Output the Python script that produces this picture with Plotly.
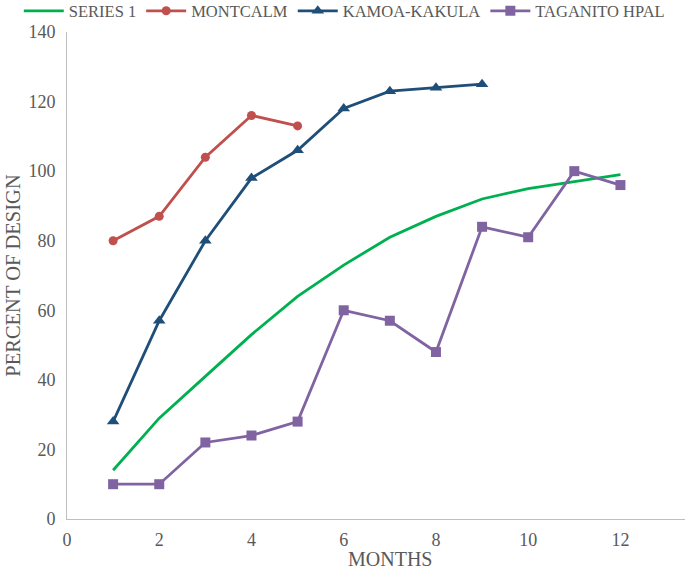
import plotly.graph_objects as go

months = list(range(1, 13))
series1 = [14, 29, 41, 53, 64, 73, 81, 87, 92, 95, 97, 99]
montcalm = [80, 87, 104, 116, 113]
kamoa = [28, 57, 80, 98, 106, 118, 123, 124, 125]
taganito = [10, 10, 22, 24, 28, 60, 57, 48, 84, 81, 100, 96]

font_family = "Liberation Serif"
grey = "#595959"

fig = go.Figure()
fig.add_trace(go.Scatter(x=months, y=series1, name="SERIES 1", mode="lines",
                         line=dict(color="#00B050", width=2.8)))
fig.add_trace(go.Scatter(x=months[:len(montcalm)], y=montcalm, name="MONTCALM", mode="lines+markers",
                         line=dict(color="#C0504D", width=2.8),
                         marker=dict(symbol="circle", size=9, color="#C0504D")))
fig.add_trace(go.Scatter(x=months[:len(kamoa)], y=kamoa, name="KAMOA-KAKULA", mode="lines+markers",
                         line=dict(color="#1F4E79", width=2.8),
                         marker=dict(symbol="triangle-up", size=11, color="#1F4E79")))
fig.add_trace(go.Scatter(x=months, y=taganito, name="TAGANITO HPAL", mode="lines+markers",
                         line=dict(color="#8064A2", width=2.8),
                         marker=dict(symbol="square", size=10, color="#8064A2")))

fig.update_layout(
    width=685, height=568,
    margin=dict(l=67, r=0, t=32, b=49, autoexpand=False),
    paper_bgcolor="white", plot_bgcolor="white",
    font=dict(family=font_family, color=grey, size=18),
    showlegend=True,
    legend=dict(orientation="h", x=-0.078, y=1.043, xref="paper", yref="paper",
                xanchor="left", yanchor="middle", font=dict(size=16.5, color=grey),
                itemwidth=40, tracegroupgap=0, bgcolor="rgba(0,0,0,0)"),
    xaxis=dict(range=[0, 13.4], tickvals=[0, 2, 4, 6, 8, 10, 12], showgrid=False,
               zeroline=False, showline=True, linecolor="#BFBFBF", linewidth=1,
               ticks="", tickfont=dict(size=18, color=grey), ticklabelstandoff=4),
    yaxis=dict(range=[0, 140], tickvals=[0, 20, 40, 60, 80, 100, 120, 140], showgrid=False,
               zeroline=False, showline=True, linecolor="#BFBFBF", linewidth=1,
               ticks="", tickfont=dict(size=18, color=grey), ticklabelstandoff=7,
               title=dict(text="PERCENT OF DESIGN", font=dict(size=20.5, color=grey), standoff=2)),
    annotations=[dict(text="MONTHS", xref="x", yref="paper", x=7, y=-0.082,
                      xanchor="center", yanchor="middle", showarrow=False,
                      font=dict(size=20, color=grey, family=font_family))],
)

fig.write_html("out.html")
